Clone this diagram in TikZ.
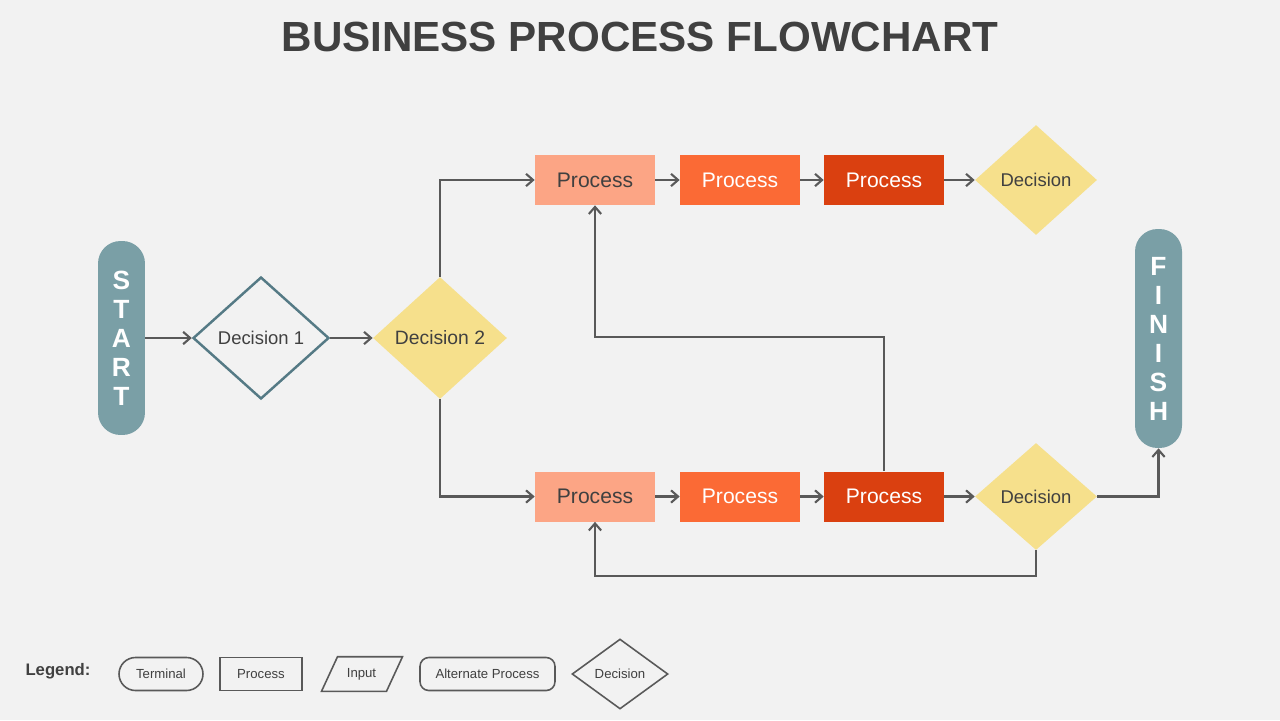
\documentclass[tikz,border=0pt]{standalone}
\usepackage{fontspec}
\setmainfont{Liberation Sans}
\usepackage{xcolor}
\usepackage{tikz}
\usetikzlibrary{arrows.meta, positioning, calc, shapes.geometric}

\definecolor{bgcol}{HTML}{F2F2F2}
\definecolor{titlecol}{HTML}{404040}
\definecolor{termcol}{HTML}{7A9FA6}
\definecolor{dec1col}{HTML}{557A85}
\definecolor{deccol}{HTML}{F6E08C}
\definecolor{proclight}{HTML}{FCA585}
\definecolor{procmid}{HTML}{FB6A35}
\definecolor{procdark}{HTML}{DA4010}
\definecolor{linecol}{HTML}{595959}

\begin{document}
\begin{tikzpicture}[
  x=0.02cm, y=-0.02cm,
  >={Straight Barb[length=4pt, width=7pt]},
  flow/.style={->, draw=linecol, line width=1.2pt},
  term/.style={
    rounded corners=0.45cm, fill=termcol, text=white,
    minimum width=0.94cm, align=center, inner sep=0pt,
    font=\fontsize{15}{16.5}\selectfont\bfseries
  },
  proc/.style={
    minimum width=2.4cm, minimum height=1.0cm, inner sep=0pt,
    font=\fontsize{12}{14}\selectfont
  },
  procA/.style={proc, fill=proclight, text=titlecol},
  procB/.style={proc, fill=procmid, text=white},
  procC/.style={proc, fill=procdark, text=white},
  dec/.style={
    diamond, inner sep=0pt, text=titlecol,
    font=\fontsize{10.5}{12}\selectfont
  },
  leg/.style={
    draw=linecol, line width=0.9pt, minimum height=0.66cm,
    inner sep=0pt, text=titlecol, font=\fontsize{7.5}{9}\selectfont
  },
]

%%% Background and frame
\fill[bgcol] (0,0) rectangle (1280,720);
\useasboundingbox (0,0) rectangle (1280,720);

%%% Title
\node[font=\fontsize{24}{28}\selectfont\bfseries, text=titlecol] (title)
  at (640,37) {BUSINESS PROCESS FLOWCHART};

%%% Start and finish
\node[term, minimum height=3.88cm] (start) at (121.5,338)
  {S\\T\\A\\R\\T};
\node[term, minimum height=4.38cm] (finish) at (1158.5,338.5)
  {F\\I\\N\\I\\S\\H};

%%% Decisions
\node[dec, draw=dec1col, line width=1.4pt, minimum width=2.72cm,
      minimum height=2.44cm] (dec1) at (261,338) {Decision 1};
\node[dec, fill=deccol, minimum width=2.68cm, minimum height=2.44cm,
      font=\fontsize{11}{13}\selectfont] (dec2) at (440,338) {Decision 2};

%%% Top row
\node[procA] (topA) at (595,180) {Process};
\node[procB] (topB) at (740,180) {Process};
\node[procC] (topC) at (884,180) {Process};
\node[dec, fill=deccol, minimum width=2.44cm, minimum height=2.2cm]
  (topD) at (1036,180) {Decision};

%%% Bottom row
\node[procA] (botA) at (595,496.5) {Process};
\node[procB] (botB) at (740,496.5) {Process};
\node[procC] (botC) at (884,496.5) {Process};
\node[dec, fill=deccol, minimum width=2.44cm, minimum height=2.14cm]
  (botD) at (1036,496.5) {Decision};

%%% Connectors
\draw[flow] (start) -- (dec1);
\draw[flow] (dec1) -- (dec2);
\draw[flow] (dec2.north) |- (topA.west);
\draw[flow] (dec2.south) |- (botA.west);
\draw[flow] (topA) -- (topB);
\draw[flow] (topB) -- (topC);
\draw[flow] (topC) -- (topD);
\draw[flow] (botA) -- (botB);
\draw[flow] (botB) -- (botC);
\draw[flow] (botC) -- (botD);
\draw[flow] (botC.north) -- ++(0,-134) -| (topA.south);
\draw[flow] (botD.south) -- ++(0,26) -| (botA.south);
\draw[flow] (botD.east) -| (finish.south);

%%% Legend
\node[font=\fontsize{9.5}{11}\selectfont\bfseries, text=titlecol]
  (legtitle) at (58,671) {Legend:};
\node[leg, rounded corners=0.33cm, minimum width=1.68cm] (legterm)
  at (161,674) {Terminal};
\node[leg, minimum width=1.64cm] (legproc) at (261,674) {Process};
\node[leg, draw=none, minimum width=1.4cm] (leginput) at (361.5,674) {Input};
\draw[linecol, line width=0.9pt]
  ([xshift=-0.8cm]leginput.south) -- ([xshift=-0.48cm]leginput.north)
  -- ([xshift=0.82cm]leginput.north) -- ([xshift=0.5cm]leginput.south)
  -- cycle;
\node[leg, rounded corners=5pt, minimum width=2.7cm] (legalt)
  at (487.5,674) {Alternate Process};
\node[leg, diamond, minimum width=1.92cm, minimum height=1.4cm]
  (legdec) at (620,674) {Decision};

\end{tikzpicture}
\end{document}
